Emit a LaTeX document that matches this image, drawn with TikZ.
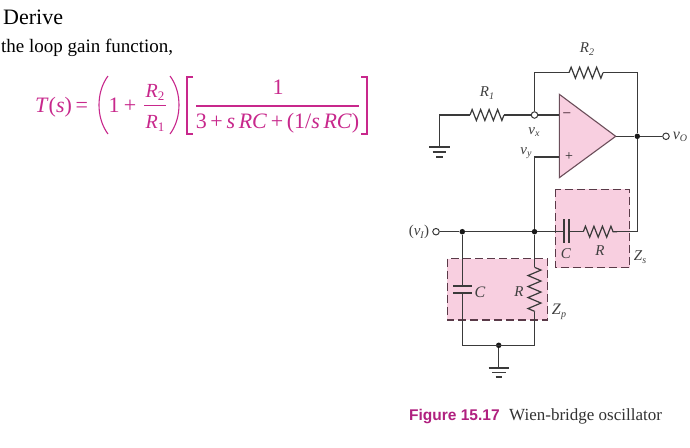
\documentclass[tikz,border=0pt]{standalone}
\usepackage{fontspec}
\setmainfont{Liberation Serif}
\setsansfont{Liberation Sans}
\usetikzlibrary{decorations.pathmorphing}
\definecolor{wirec}{HTML}{3A3A3A}
\definecolor{pinkfill}{HTML}{F8CFE0}
\definecolor{boxline}{HTML}{5A3A48}
\definecolor{eqc}{HTML}{C8288C}
\definecolor{capc}{HTML}{B0207F}
\newcommand{\fs}[1]{\fontsize{#1}{#1}\selectfont}
\newcommand{\subi}[1]{\raisebox{-.35ex}{\fs{10}\textit{#1}}}
\newcommand{\subq}[1]{\raisebox{-.35ex}{\fs{13}#1}}
\tikzset{
  wire/.style={draw=wirec,line width=1.2pt},
  hres/.style={wire,decorate,decoration={zigzag,segment length=8.5pt,amplitude=5.5pt,pre length=0pt,post length=0pt}},
  zbox/.style={fill=pinkfill,draw=boxline,line width=1.1pt,dash pattern=on 8pt off 4pt},
  dot/.style={circle,fill=black!90,inner sep=0pt,minimum size=5.5pt},
  opn/.style={circle,draw=wirec,fill=white,line width=1pt,inner sep=0pt,minimum size=6.5pt},
  lab/.style={inner sep=0pt,text=black!75,font=\fs{15}},
  eq/.style={inner sep=0pt,text=eqc,anchor=base},
  eqline/.style={draw=eqc,line width=1.1pt},
  plain/.style={inner sep=0pt,anchor=base west,text=black},
}
\begin{document}
\begin{tikzpicture}[x=1pt,y=-1pt]
\useasboundingbox[fill=white] (0,0) rectangle (690,447);
% text
\node[plain,font=\fs{22}] (t1) at (3,24) {Derive};
\node[plain,font=\fs{19}] (t2) at (1,52) {the loop gain function,};
% equation
\node[eq,anchor=base west,font=\fs{22}] (eqT) at (35,112) {\textit{T}(\textit{s})\,=};
\draw[eqline] (108,76) .. controls (96,92) and (96,118) .. (108,134);
\node[eq,font=\fs{22}] (eq1) at (114,112) {1};
\node[eq,font=\fs{22}] (eqp) at (130,112) {+};
\node[eq,font=\fs{20}] (eqR2) at (155,97) {\textit{R}\subq{2}};
\draw[draw=eqc,line width=1.8pt] (144,105.5) -- (166,105.5);
\node[eq,font=\fs{20}] (eqR1) at (155,128) {\textit{R}\subq{1}};
\draw[eqline] (170,76) .. controls (182,92) and (182,118) .. (170,134);
\draw[eqline] (193,77) -- (187,77) -- (187,134) -- (193,134);
\node[eq,font=\fs{22}] (eqn) at (278,94) {1};
\draw[draw=eqc,line width=2pt] (196,105.5) -- (359,105.5);
\node[eq,font=\fs{22}] (eqd) at (277.5,128) {3\,+\,\textit{s\,RC}\,+\,(1/\textit{s\,RC})};
\draw[eqline] (361,77) -- (367,77) -- (367,134) -- (361,134);
% boxes
\draw[zbox] (555.3,189.3) rectangle (629.7,267.7);
\draw[zbox] (447.3,258.7) rectangle (547.7,320);
% opamp
\coordinate (oa1) at (559.3,94.3);
\coordinate (oa2) at (559.3,177.7);
\coordinate (oa3) at (615.7,136.3);
\draw[fill=pinkfill,draw=boxline!90,line width=1.1pt] (oa1) -- (oa3) -- (oa2) -- cycle;
\node[inner sep=0pt,text=boxline,font=\fs{14}] (minus) at (567,114.5) {\textbf{--}};
\node[inner sep=0pt,text=black!85,font=\fs{14}] (plus) at (569,156.5) {+};
% coordinates & nodes
\coordinate (g1) at (439.3,115);
\coordinate (g1b) at (439.3,147);
\coordinate (r1a) at (470,115);
\coordinate (r1b) at (504,115);
\node[opn] (vx) at (534.5,115) {};
\coordinate (tl) at (534.5,72.7);
\coordinate (r2a) at (569,72.7);
\coordinate (r2b) at (603,72.7);
\coordinate (tr) at (637.3,72.7);
\coordinate (inm) at (559.3,115);
\coordinate (inp) at (559.3,157);
\coordinate (vyc) at (534.5,157);
\node[dot] (no) at (637.3,136.3) {};
\node[opn] (vo) at (666,136.3) {};
\node[opn] (vi) at (436,231.7) {};
\node[dot] (n1) at (462.3,231.7) {};
\node[dot] (n2) at (534.5,231.7) {};
\coordinate (c1) at (564.3,231.7);
\coordinate (c2) at (569.3,231.7);
\coordinate (r3a) at (583.3,231.7);
\coordinate (r3b) at (617,231.7);
\coordinate (br) at (637.3,231.7);
\coordinate (cpt) at (462.3,285.7);
\coordinate (cpb) at (462.3,292.7);
\coordinate (r4a) at (534.5,267.3);
\coordinate (r4b) at (534.5,311.7);
\coordinate (bl) at (462.3,345.3);
\coordinate (brr) at (534.5,345.3);
\node[dot] (gn) at (498.7,345.3) {};
\coordinate (g2b) at (498.7,367.7);
% wires
\draw[wire] (g1b) -- (g1) -- (r1a);
\draw[hres] (r1a) -- (r1b);
\draw[wire] (r1b) -- (vx) (vx) -- (inm);
\draw[wire] (vx) -- (tl) -- (r2a);
\draw[hres] (r2a) -- (r2b);
\draw[wire] (r2b) -- (tr) -- (no);
\draw[wire] (oa3) -- (no) -- (vo);
\draw[wire] (inp) -- (vyc) -- (n2);
\draw[wire] (vi) -- (n1) -- (n2) -- (c1);
\draw[wire] (c2) -- (r3a);
\draw[hres] (r3a) -- (r3b);
\draw[wire] (r3b) -- (br) -- (no);
\draw[wire] (n1) -- (cpt);
\draw[wire] (cpb) -- (bl) -- (brr) -- (r4b);
\draw[wire] (n2) -- (r4a);
\draw[hres,decoration={amplitude=6.5pt,segment length=11pt}] (r4a) -- (r4b);
\draw[wire] (gn) -- (g2b);
% capacitors
\draw[wire,line width=1.8pt] (564.3,219) -- (564.3,243) (569.3,219) -- (569.3,243);
\draw[wire,line width=1.8pt] (453,285.7) -- (471.7,285.7) (453,292.7) -- (471.7,292.7);
% grounds
\draw[wire,line width=1.8pt] (429,147) -- (449.5,147) (432.5,152) -- (446,152) (436,157) -- (442.5,157);
\draw[wire,line width=1.8pt] (488.5,367.7) -- (509,367.7) (492,372.5) -- (505.5,372.5) (495.5,377) -- (502,377);
% labels
\node[lab] (lr1) at (487,93) {\textit{R}\subi{1}};
\node[lab] (lr2) at (587,49) {\textit{R}\subi{2}};
\node[lab] (lvx) at (534,132) {\textit{v}\subi{x}};
\node[lab] (lvy) at (526,153) {\textit{v}\subi{y}};
\node[lab,font=\fs{16}] (lvo) at (680,137) {\textit{v}\subi{O}};
\node[lab] (lvi) at (419,232) {(\textit{v}\subi{I})};
\node[lab] (lc1) at (566,254) {\textit{C}};
\node[lab] (lr3) at (600,251) {\textit{R}};
\node[lab] (lzs) at (640,257) {\textit{Z}\subi{s}};
\node[lab,font=\fs{16}] (lc2) at (480,292) {\textit{C}};
\node[lab] (lr4) at (519,292) {\textit{R}};
\node[lab,font=\fs{16}] (lzp) at (559,312) {\textit{Z}\subi{p}};
% caption
\node[plain,text=capc,font=\fs{15.5}\sffamily\bfseries] (cap1) at (409,420) {Figure 15.17};
\node[plain,text=black!80,font=\fs{17}] (cap2) at (509,420) {Wien-bridge oscillator};
\end{tikzpicture}
\end{document}
